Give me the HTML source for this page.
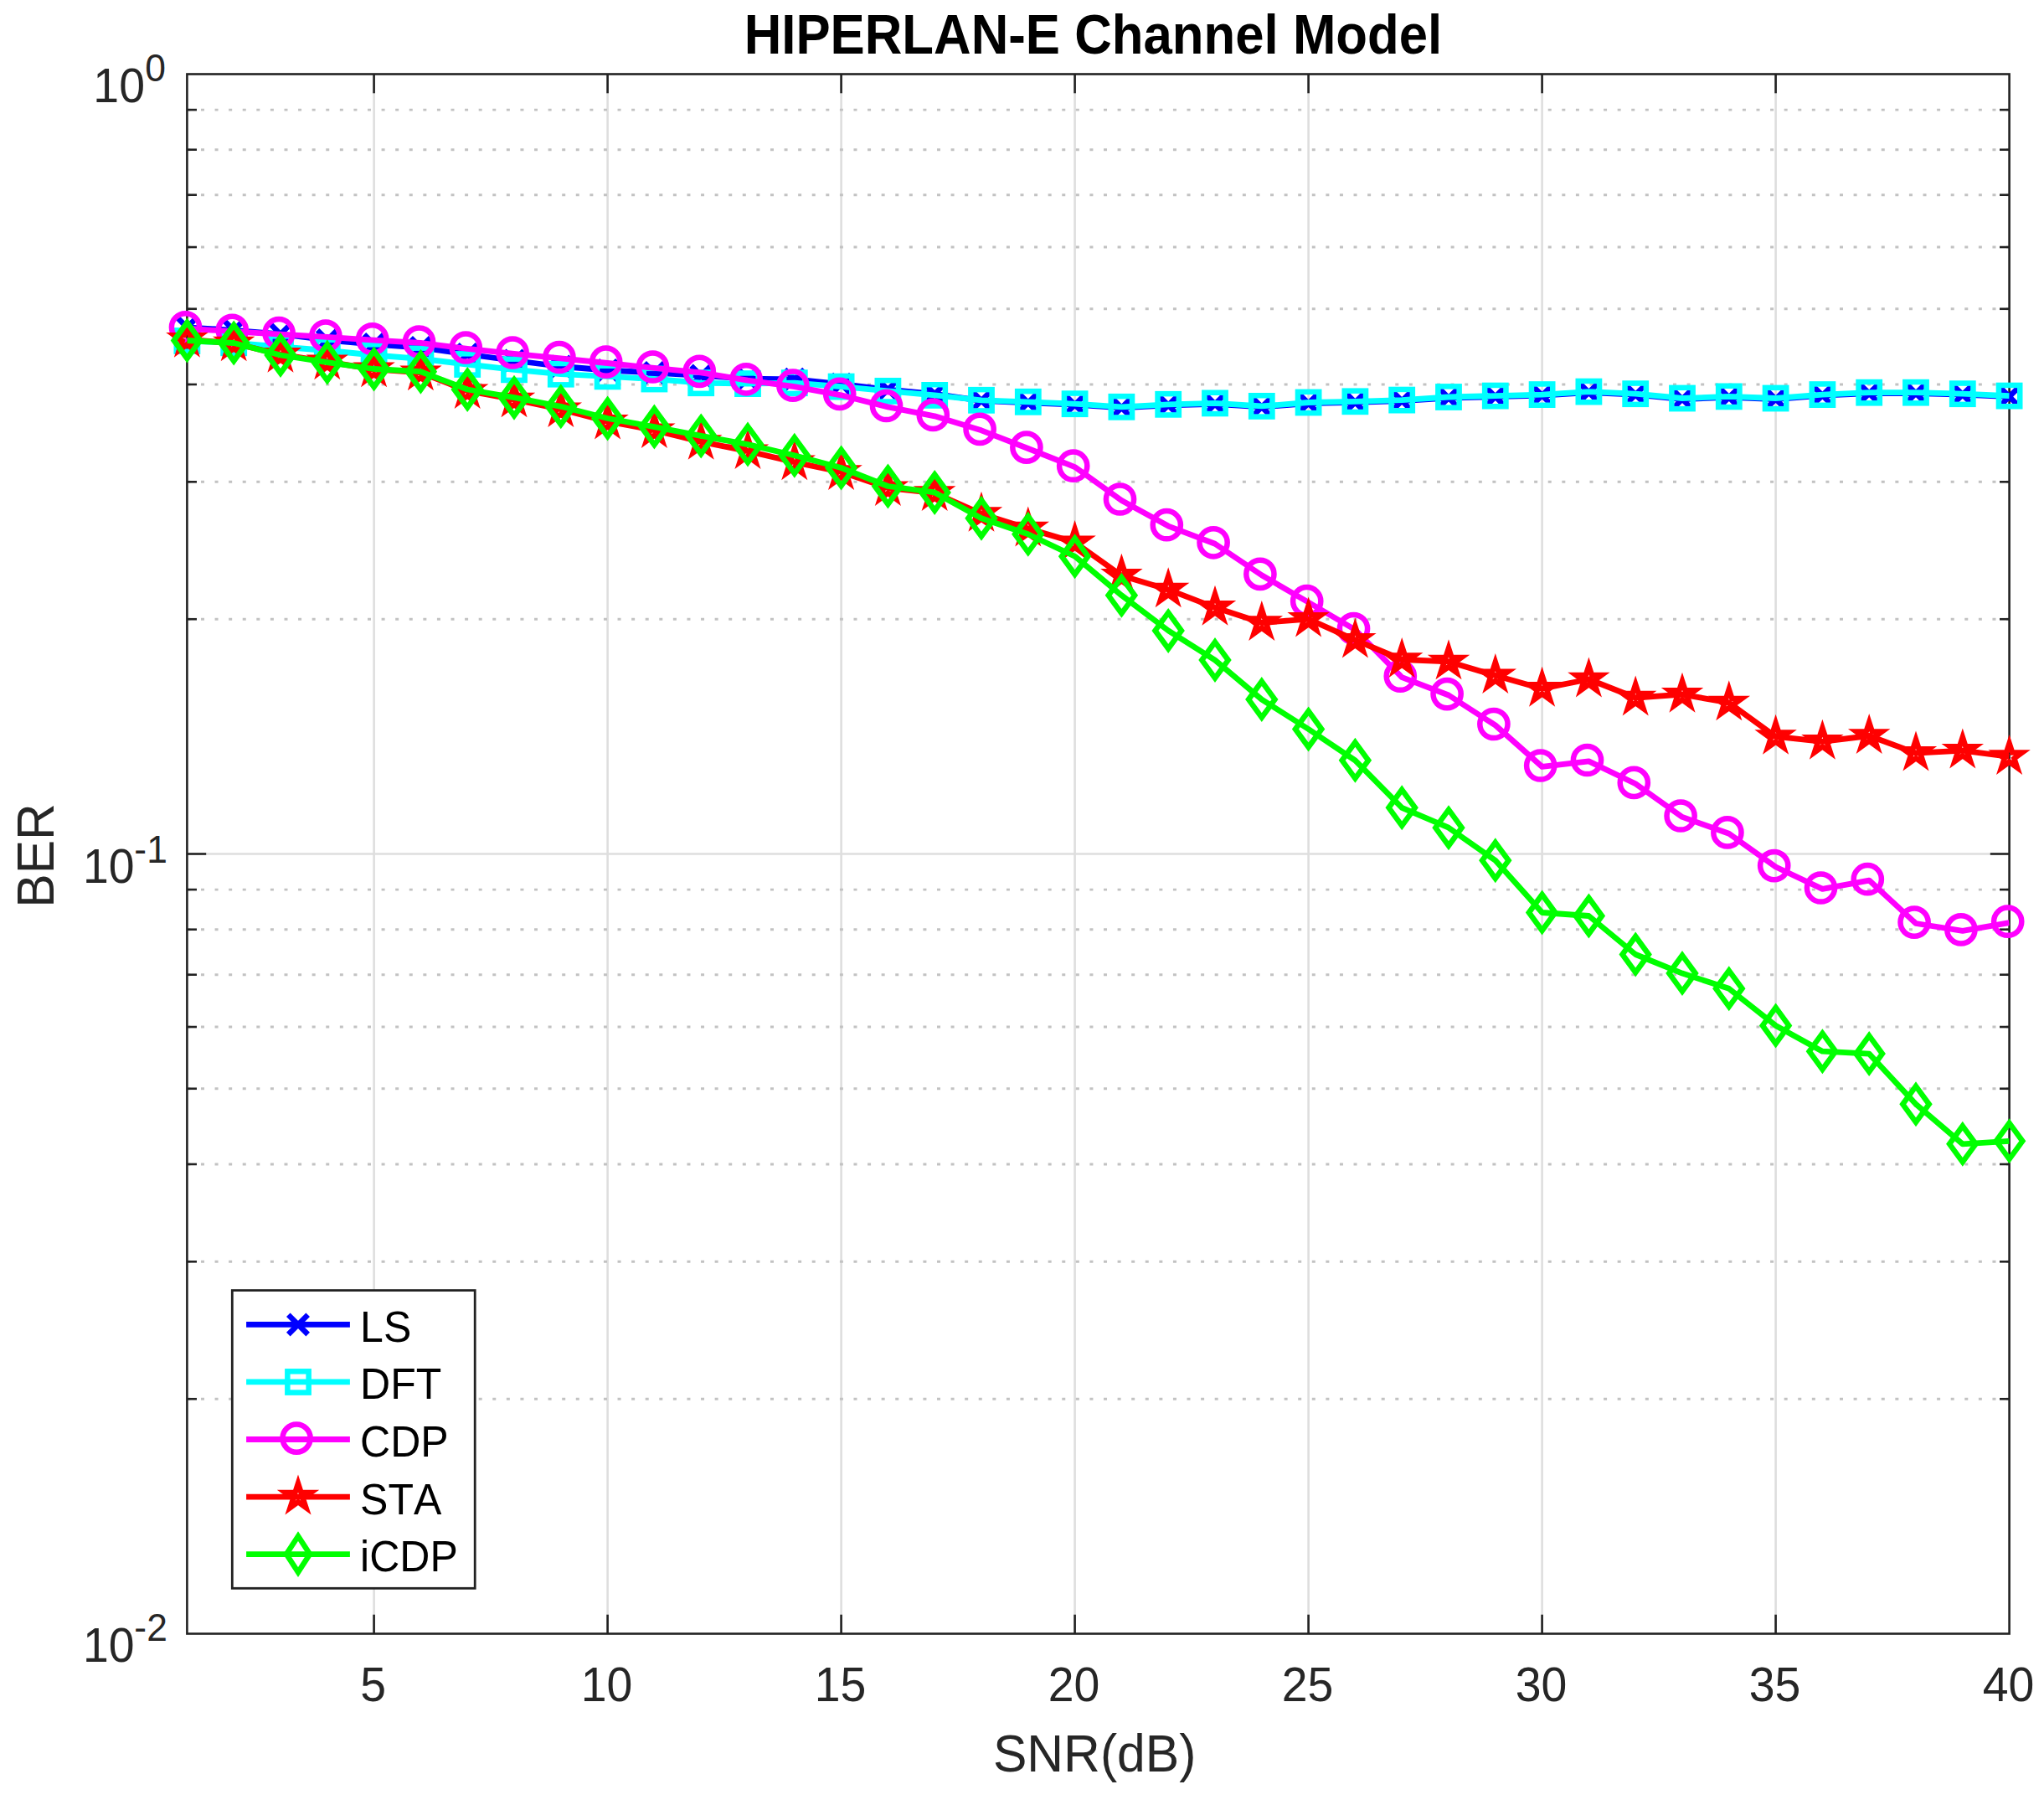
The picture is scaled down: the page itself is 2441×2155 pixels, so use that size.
<!DOCTYPE html>
<html lang="en"><head><meta charset="utf-8"><title>HIPERLAN-E Channel Model</title>
<style>html,body{margin:0;padding:0;background:#fff}body{width:2441px;height:2155px;overflow:hidden}svg{display:block}text{font-family:"Liberation Sans",sans-serif}text{font-kerning:none}.tk,.ex,.lb{fill:#262626}.tt{font-weight:bold;fill:#000}.lg{fill:#000}</style></head><body>
<svg width="2441" height="2155" viewBox="0 0 2441 2155">
<defs>
<clipPath id="ax"><rect x="223.40" y="88.50" width="2176.20" height="1862.00"/></clipPath>
<g id="mx"><path d="M-11.7 -11.7 L11.7 11.7 M-11.7 11.7 L11.7 -11.7" fill="none" stroke="#0000ff" stroke-width="6.50"/></g>
<rect id="ms" x="-12.65" y="-12.65" width="25.3" height="25.3" fill="none" stroke="#00ffff" stroke-width="6.50"/>
<circle id="mc" cx="-1.9" cy="-1.4" r="16.6" fill="none" stroke="#ff00ff" stroke-width="6.50"/>
<path id="mp" d="M0.00 -16.00 L3.59 -4.94 L15.22 -4.94 L5.81 1.89 L9.40 12.94 L0.00 6.11 L-9.40 12.94 L-5.81 1.89 L-15.22 -4.94 L-3.59 -4.94 Z" fill="none" stroke="#ff0000" stroke-width="6.50" stroke-linejoin="miter" stroke-miterlimit="10"/>
<path id="md" d="M0 -21.5 L15.7 0 L0 21.5 L-15.7 0 Z" fill="none" stroke="#00ff00" stroke-width="6.50" stroke-linejoin="miter" stroke-miterlimit="10"/>
<path id="mdl" d="M0 -21.5 L14 0 L0 21.5 L-14 0 Z" fill="none" stroke="#00ff00" stroke-width="6.50" stroke-linejoin="miter" stroke-miterlimit="10"/>
</defs>
<rect width="2441" height="2155" fill="#fff"/>
<g stroke="#dedede" stroke-width="2.6" fill="none">
<line x1="446.60" y1="88.50" x2="446.60" y2="1950.50"/>
<line x1="725.60" y1="88.50" x2="725.60" y2="1950.50"/>
<line x1="1004.60" y1="88.50" x2="1004.60" y2="1950.50"/>
<line x1="1283.60" y1="88.50" x2="1283.60" y2="1950.50"/>
<line x1="1562.60" y1="88.50" x2="1562.60" y2="1950.50"/>
<line x1="1841.60" y1="88.50" x2="1841.60" y2="1950.50"/>
<line x1="2120.60" y1="88.50" x2="2120.60" y2="1950.50"/>
<line x1="223.40" y1="1019.50" x2="2399.60" y2="1019.50"/>
</g>
<g stroke="#c2c2c2" stroke-width="2.9" stroke-dasharray="4 12.585" fill="none">
<line x1="223.40" y1="739.24" x2="2399.60" y2="739.24"/>
<line x1="223.40" y1="575.30" x2="2399.60" y2="575.30"/>
<line x1="223.40" y1="458.98" x2="2399.60" y2="458.98"/>
<line x1="223.40" y1="368.76" x2="2399.60" y2="368.76"/>
<line x1="223.40" y1="295.04" x2="2399.60" y2="295.04"/>
<line x1="223.40" y1="232.71" x2="2399.60" y2="232.71"/>
<line x1="223.40" y1="178.72" x2="2399.60" y2="178.72"/>
<line x1="223.40" y1="131.10" x2="2399.60" y2="131.10"/>
<line x1="223.40" y1="1670.24" x2="2399.60" y2="1670.24"/>
<line x1="223.40" y1="1506.30" x2="2399.60" y2="1506.30"/>
<line x1="223.40" y1="1389.98" x2="2399.60" y2="1389.98"/>
<line x1="223.40" y1="1299.76" x2="2399.60" y2="1299.76"/>
<line x1="223.40" y1="1226.04" x2="2399.60" y2="1226.04"/>
<line x1="223.40" y1="1163.71" x2="2399.60" y2="1163.71"/>
<line x1="223.40" y1="1109.72" x2="2399.60" y2="1109.72"/>
<line x1="223.40" y1="1062.10" x2="2399.60" y2="1062.10"/>
</g>
<g stroke="#222222" stroke-width="2.60" fill="none">
<rect x="223.40" y="88.50" width="2176.20" height="1862.00"/>
<line x1="446.60" y1="1950.50" x2="446.60" y2="1927.70"/>
<line x1="446.60" y1="88.50" x2="446.60" y2="111.30"/>
<line x1="725.60" y1="1950.50" x2="725.60" y2="1927.70"/>
<line x1="725.60" y1="88.50" x2="725.60" y2="111.30"/>
<line x1="1004.60" y1="1950.50" x2="1004.60" y2="1927.70"/>
<line x1="1004.60" y1="88.50" x2="1004.60" y2="111.30"/>
<line x1="1283.60" y1="1950.50" x2="1283.60" y2="1927.70"/>
<line x1="1283.60" y1="88.50" x2="1283.60" y2="111.30"/>
<line x1="1562.60" y1="1950.50" x2="1562.60" y2="1927.70"/>
<line x1="1562.60" y1="88.50" x2="1562.60" y2="111.30"/>
<line x1="1841.60" y1="1950.50" x2="1841.60" y2="1927.70"/>
<line x1="1841.60" y1="88.50" x2="1841.60" y2="111.30"/>
<line x1="2120.60" y1="1950.50" x2="2120.60" y2="1927.70"/>
<line x1="2120.60" y1="88.50" x2="2120.60" y2="111.30"/>
<line x1="223.40" y1="1019.50" x2="246.20" y2="1019.50"/>
<line x1="2399.60" y1="1019.50" x2="2376.80" y2="1019.50"/>
<line x1="223.40" y1="739.24" x2="235.00" y2="739.24"/>
<line x1="2399.60" y1="739.24" x2="2388.00" y2="739.24"/>
<line x1="223.40" y1="575.30" x2="235.00" y2="575.30"/>
<line x1="2399.60" y1="575.30" x2="2388.00" y2="575.30"/>
<line x1="223.40" y1="458.98" x2="235.00" y2="458.98"/>
<line x1="2399.60" y1="458.98" x2="2388.00" y2="458.98"/>
<line x1="223.40" y1="368.76" x2="235.00" y2="368.76"/>
<line x1="2399.60" y1="368.76" x2="2388.00" y2="368.76"/>
<line x1="223.40" y1="295.04" x2="235.00" y2="295.04"/>
<line x1="2399.60" y1="295.04" x2="2388.00" y2="295.04"/>
<line x1="223.40" y1="232.71" x2="235.00" y2="232.71"/>
<line x1="2399.60" y1="232.71" x2="2388.00" y2="232.71"/>
<line x1="223.40" y1="178.72" x2="235.00" y2="178.72"/>
<line x1="2399.60" y1="178.72" x2="2388.00" y2="178.72"/>
<line x1="223.40" y1="131.10" x2="235.00" y2="131.10"/>
<line x1="2399.60" y1="131.10" x2="2388.00" y2="131.10"/>
<line x1="223.40" y1="1670.24" x2="235.00" y2="1670.24"/>
<line x1="2399.60" y1="1670.24" x2="2388.00" y2="1670.24"/>
<line x1="223.40" y1="1506.30" x2="235.00" y2="1506.30"/>
<line x1="2399.60" y1="1506.30" x2="2388.00" y2="1506.30"/>
<line x1="223.40" y1="1389.98" x2="235.00" y2="1389.98"/>
<line x1="2399.60" y1="1389.98" x2="2388.00" y2="1389.98"/>
<line x1="223.40" y1="1299.76" x2="235.00" y2="1299.76"/>
<line x1="2399.60" y1="1299.76" x2="2388.00" y2="1299.76"/>
<line x1="223.40" y1="1226.04" x2="235.00" y2="1226.04"/>
<line x1="2399.60" y1="1226.04" x2="2388.00" y2="1226.04"/>
<line x1="223.40" y1="1163.71" x2="235.00" y2="1163.71"/>
<line x1="2399.60" y1="1163.71" x2="2388.00" y2="1163.71"/>
<line x1="223.40" y1="1109.72" x2="235.00" y2="1109.72"/>
<line x1="2399.60" y1="1109.72" x2="2388.00" y2="1109.72"/>
<line x1="223.40" y1="1062.10" x2="235.00" y2="1062.10"/>
<line x1="2399.60" y1="1062.10" x2="2388.00" y2="1062.10"/>
</g>
<polyline points="223.40,390.80 279.20,394.30 335.00,399.00 390.80,406.00 446.60,411.00 502.40,415.00 558.20,423.00 614.00,430.50 669.80,437.50 725.60,442.00 781.40,445.00 837.20,448.40 893.00,452.20 948.80,452.80 1004.60,458.70 1060.40,465.20 1116.20,470.40 1172.00,478.30 1227.80,480.80 1283.60,483.20 1339.40,486.80 1395.20,483.80 1451.00,482.40 1506.80,485.90 1562.60,481.50 1618.40,480.30 1674.20,478.60 1730.00,475.00 1785.80,473.60 1841.60,472.10 1897.40,468.60 1953.20,471.20 2009.00,476.50 2064.80,474.40 2120.60,476.50 2176.40,472.10 2232.20,469.70 2288.00,469.70 2343.80,471.20 2399.60,473.60" fill="none" stroke="#0000ff" stroke-width="6.80" stroke-linejoin="round" clip-path="url(#ax)"/>
<g><use href="#mx" x="223.40" y="390.80"/><use href="#mx" x="279.20" y="394.30"/><use href="#mx" x="335.00" y="399.00"/><use href="#mx" x="390.80" y="406.00"/><use href="#mx" x="446.60" y="411.00"/><use href="#mx" x="502.40" y="415.00"/><use href="#mx" x="558.20" y="423.00"/><use href="#mx" x="614.00" y="430.50"/><use href="#mx" x="669.80" y="437.50"/><use href="#mx" x="725.60" y="442.00"/><use href="#mx" x="781.40" y="445.00"/><use href="#mx" x="837.20" y="448.40"/><use href="#mx" x="893.00" y="452.20"/><use href="#mx" x="948.80" y="452.80"/><use href="#mx" x="1004.60" y="458.70"/><use href="#mx" x="1060.40" y="465.20"/><use href="#mx" x="1116.20" y="470.40"/><use href="#mx" x="1172.00" y="478.30"/><use href="#mx" x="1227.80" y="480.80"/><use href="#mx" x="1283.60" y="483.20"/><use href="#mx" x="1339.40" y="486.80"/><use href="#mx" x="1395.20" y="483.80"/><use href="#mx" x="1451.00" y="482.40"/><use href="#mx" x="1506.80" y="485.90"/><use href="#mx" x="1562.60" y="481.50"/><use href="#mx" x="1618.40" y="480.30"/><use href="#mx" x="1674.20" y="478.60"/><use href="#mx" x="1730.00" y="475.00"/><use href="#mx" x="1785.80" y="473.60"/><use href="#mx" x="1841.60" y="472.10"/><use href="#mx" x="1897.40" y="468.60"/><use href="#mx" x="1953.20" y="471.20"/><use href="#mx" x="2009.00" y="476.50"/><use href="#mx" x="2064.80" y="474.40"/><use href="#mx" x="2120.60" y="476.50"/><use href="#mx" x="2176.40" y="472.10"/><use href="#mx" x="2232.20" y="469.70"/><use href="#mx" x="2288.00" y="469.70"/><use href="#mx" x="2343.80" y="471.20"/><use href="#mx" x="2399.60" y="473.60"/></g>
<polyline points="223.40,407.00 279.20,409.30 335.00,414.00 390.80,418.50 446.60,424.00 502.40,428.30 558.20,435.00 614.00,441.30 669.80,446.70 725.60,449.40 781.40,452.50 837.20,457.20 893.00,458.10 948.80,457.20 1004.60,461.60 1060.40,466.90 1116.20,471.90 1172.00,477.80 1227.80,479.80 1283.60,482.20 1339.40,485.80 1395.20,482.80 1451.00,481.40 1506.80,484.90 1562.60,480.50 1618.40,479.30 1674.20,477.60 1730.00,474.00 1785.80,472.60 1841.60,471.10 1897.40,467.60 1953.20,470.20 2009.00,475.50 2064.80,473.40 2120.60,475.50 2176.40,471.10 2232.20,468.70 2288.00,468.70 2343.80,470.20 2399.60,472.60" fill="none" stroke="#00ffff" stroke-width="6.80" stroke-linejoin="round" clip-path="url(#ax)"/>
<g><use href="#ms" x="223.40" y="407.00"/><use href="#ms" x="279.20" y="409.30"/><use href="#ms" x="335.00" y="414.00"/><use href="#ms" x="390.80" y="418.50"/><use href="#ms" x="446.60" y="424.00"/><use href="#ms" x="502.40" y="428.30"/><use href="#ms" x="558.20" y="435.00"/><use href="#ms" x="614.00" y="441.30"/><use href="#ms" x="669.80" y="446.70"/><use href="#ms" x="725.60" y="449.40"/><use href="#ms" x="781.40" y="452.50"/><use href="#ms" x="837.20" y="457.20"/><use href="#ms" x="893.00" y="458.10"/><use href="#ms" x="948.80" y="457.20"/><use href="#ms" x="1004.60" y="461.60"/><use href="#ms" x="1060.40" y="466.90"/><use href="#ms" x="1116.20" y="471.90"/><use href="#ms" x="1172.00" y="477.80"/><use href="#ms" x="1227.80" y="479.80"/><use href="#ms" x="1283.60" y="482.20"/><use href="#ms" x="1339.40" y="485.80"/><use href="#ms" x="1395.20" y="482.80"/><use href="#ms" x="1451.00" y="481.40"/><use href="#ms" x="1506.80" y="484.90"/><use href="#ms" x="1562.60" y="480.50"/><use href="#ms" x="1618.40" y="479.30"/><use href="#ms" x="1674.20" y="477.60"/><use href="#ms" x="1730.00" y="474.00"/><use href="#ms" x="1785.80" y="472.60"/><use href="#ms" x="1841.60" y="471.10"/><use href="#ms" x="1897.40" y="467.60"/><use href="#ms" x="1953.20" y="470.20"/><use href="#ms" x="2009.00" y="475.50"/><use href="#ms" x="2064.80" y="473.40"/><use href="#ms" x="2120.60" y="475.50"/><use href="#ms" x="2176.40" y="471.10"/><use href="#ms" x="2232.20" y="468.70"/><use href="#ms" x="2288.00" y="468.70"/><use href="#ms" x="2343.80" y="470.20"/><use href="#ms" x="2399.60" y="472.60"/></g>
<polyline points="223.40,392.20 279.20,395.80 335.00,399.10 390.80,402.40 446.60,406.20 502.40,409.40 558.20,416.40 614.00,422.40 669.80,427.90 725.60,433.50 781.40,439.40 837.20,444.80 893.00,454.20 948.80,461.60 1004.60,471.80 1060.40,485.90 1116.20,496.80 1172.00,513.80 1227.80,535.50 1283.60,557.60 1339.40,597.40 1395.20,628.10 1451.00,649.20 1506.80,686.80 1562.60,719.10 1618.40,751.90 1674.20,808.60 1730.00,830.00 1785.80,865.90 1841.60,915.40 1897.40,908.90 1953.20,935.80 2009.00,975.40 2064.80,995.30 2120.60,1035.00 2176.40,1061.40 2232.20,1051.10 2288.00,1102.50 2343.80,1111.30 2399.60,1101.60" fill="none" stroke="#ff00ff" stroke-width="6.80" stroke-linejoin="round" clip-path="url(#ax)"/>
<g><use href="#mc" x="223.40" y="392.20"/><use href="#mc" x="279.20" y="395.80"/><use href="#mc" x="335.00" y="399.10"/><use href="#mc" x="390.80" y="402.40"/><use href="#mc" x="446.60" y="406.20"/><use href="#mc" x="502.40" y="409.40"/><use href="#mc" x="558.20" y="416.40"/><use href="#mc" x="614.00" y="422.40"/><use href="#mc" x="669.80" y="427.90"/><use href="#mc" x="725.60" y="433.50"/><use href="#mc" x="781.40" y="439.40"/><use href="#mc" x="837.20" y="444.80"/><use href="#mc" x="893.00" y="454.20"/><use href="#mc" x="948.80" y="461.60"/><use href="#mc" x="1004.60" y="471.80"/><use href="#mc" x="1060.40" y="485.90"/><use href="#mc" x="1116.20" y="496.80"/><use href="#mc" x="1172.00" y="513.80"/><use href="#mc" x="1227.80" y="535.50"/><use href="#mc" x="1283.60" y="557.60"/><use href="#mc" x="1339.40" y="597.40"/><use href="#mc" x="1395.20" y="628.10"/><use href="#mc" x="1451.00" y="649.20"/><use href="#mc" x="1506.80" y="686.80"/><use href="#mc" x="1562.60" y="719.10"/><use href="#mc" x="1618.40" y="751.90"/><use href="#mc" x="1674.20" y="808.60"/><use href="#mc" x="1730.00" y="830.00"/><use href="#mc" x="1785.80" y="865.90"/><use href="#mc" x="1841.60" y="915.40"/><use href="#mc" x="1897.40" y="908.90"/><use href="#mc" x="1953.20" y="935.80"/><use href="#mc" x="2009.00" y="975.40"/><use href="#mc" x="2064.80" y="995.30"/><use href="#mc" x="2120.60" y="1035.00"/><use href="#mc" x="2176.40" y="1061.40"/><use href="#mc" x="2232.20" y="1051.10"/><use href="#mc" x="2288.00" y="1102.50"/><use href="#mc" x="2343.80" y="1111.30"/><use href="#mc" x="2399.60" y="1101.60"/></g>
<polyline points="223.40,405.20 279.20,409.90 335.00,423.20 390.80,431.80 446.60,440.80 502.40,444.80 558.20,466.60 614.00,476.90 669.80,488.60 725.60,503.10 781.40,513.60 837.20,527.40 893.00,538.60 948.80,551.80 1004.60,563.50 1060.40,582.60 1116.20,588.50 1172.00,613.40 1227.80,631.00 1283.60,647.60 1339.40,687.30 1395.20,703.90 1451.00,725.30 1506.80,743.50 1562.60,739.10 1618.40,764.10 1674.20,787.50 1730.00,789.90 1785.80,806.60 1841.60,822.20 1897.40,811.00 1953.20,833.00 2009.00,829.20 2064.80,838.90 2120.60,879.40 2176.40,885.30 2232.20,878.50 2288.00,899.10 2343.80,896.10 2399.60,903.50" fill="none" stroke="#ff0000" stroke-width="6.80" stroke-linejoin="round" clip-path="url(#ax)"/>
<g><use href="#mp" x="223.40" y="405.20"/><use href="#mp" x="279.20" y="409.90"/><use href="#mp" x="335.00" y="423.20"/><use href="#mp" x="390.80" y="431.80"/><use href="#mp" x="446.60" y="440.80"/><use href="#mp" x="502.40" y="444.80"/><use href="#mp" x="558.20" y="466.60"/><use href="#mp" x="614.00" y="476.90"/><use href="#mp" x="669.80" y="488.60"/><use href="#mp" x="725.60" y="503.10"/><use href="#mp" x="781.40" y="513.60"/><use href="#mp" x="837.20" y="527.40"/><use href="#mp" x="893.00" y="538.60"/><use href="#mp" x="948.80" y="551.80"/><use href="#mp" x="1004.60" y="563.50"/><use href="#mp" x="1060.40" y="582.60"/><use href="#mp" x="1116.20" y="588.50"/><use href="#mp" x="1172.00" y="613.40"/><use href="#mp" x="1227.80" y="631.00"/><use href="#mp" x="1283.60" y="647.60"/><use href="#mp" x="1339.40" y="687.30"/><use href="#mp" x="1395.20" y="703.90"/><use href="#mp" x="1451.00" y="725.30"/><use href="#mp" x="1506.80" y="743.50"/><use href="#mp" x="1562.60" y="739.10"/><use href="#mp" x="1618.40" y="764.10"/><use href="#mp" x="1674.20" y="787.50"/><use href="#mp" x="1730.00" y="789.90"/><use href="#mp" x="1785.80" y="806.60"/><use href="#mp" x="1841.60" y="822.20"/><use href="#mp" x="1897.40" y="811.00"/><use href="#mp" x="1953.20" y="833.00"/><use href="#mp" x="2009.00" y="829.20"/><use href="#mp" x="2064.80" y="838.90"/><use href="#mp" x="2120.60" y="879.40"/><use href="#mp" x="2176.40" y="885.30"/><use href="#mp" x="2232.20" y="878.50"/><use href="#mp" x="2288.00" y="899.10"/><use href="#mp" x="2343.80" y="896.10"/><use href="#mp" x="2399.60" y="903.50"/></g>
<polyline points="223.40,406.50 279.20,409.50 335.00,424.00 390.80,432.70 446.60,440.50 502.40,443.70 558.20,465.00 614.00,474.70 669.80,485.30 725.60,499.50 781.40,509.60 837.20,520.40 893.00,530.60 948.80,543.80 1004.60,558.50 1060.40,580.50 1116.20,587.90 1172.00,618.70 1227.80,637.80 1283.60,664.20 1339.40,710.80 1395.20,752.90 1451.00,788.10 1506.80,835.10 1562.60,870.50 1618.40,907.80 1674.20,964.30 1730.00,988.20 1785.80,1027.30 1841.60,1089.50 1897.40,1093.50 1953.20,1139.50 2009.00,1162.10 2064.80,1180.30 2120.60,1224.40 2176.40,1255.20 2232.20,1258.10 2288.00,1318.30 2343.80,1365.80 2399.60,1362.30" fill="none" stroke="#00ff00" stroke-width="6.80" stroke-linejoin="round" clip-path="url(#ax)"/>
<g><use href="#md" x="223.40" y="406.50"/><use href="#md" x="279.20" y="409.50"/><use href="#md" x="335.00" y="424.00"/><use href="#md" x="390.80" y="432.70"/><use href="#md" x="446.60" y="440.50"/><use href="#md" x="502.40" y="443.70"/><use href="#md" x="558.20" y="465.00"/><use href="#md" x="614.00" y="474.70"/><use href="#md" x="669.80" y="485.30"/><use href="#md" x="725.60" y="499.50"/><use href="#md" x="781.40" y="509.60"/><use href="#md" x="837.20" y="520.40"/><use href="#md" x="893.00" y="530.60"/><use href="#md" x="948.80" y="543.80"/><use href="#md" x="1004.60" y="558.50"/><use href="#md" x="1060.40" y="580.50"/><use href="#md" x="1116.20" y="587.90"/><use href="#md" x="1172.00" y="618.70"/><use href="#md" x="1227.80" y="637.80"/><use href="#md" x="1283.60" y="664.20"/><use href="#md" x="1339.40" y="710.80"/><use href="#md" x="1395.20" y="752.90"/><use href="#md" x="1451.00" y="788.10"/><use href="#md" x="1506.80" y="835.10"/><use href="#md" x="1562.60" y="870.50"/><use href="#md" x="1618.40" y="907.80"/><use href="#md" x="1674.20" y="964.30"/><use href="#md" x="1730.00" y="988.20"/><use href="#md" x="1785.80" y="1027.30"/><use href="#md" x="1841.60" y="1089.50"/><use href="#md" x="1897.40" y="1093.50"/><use href="#md" x="1953.20" y="1139.50"/><use href="#md" x="2009.00" y="1162.10"/><use href="#md" x="2064.80" y="1180.30"/><use href="#md" x="2120.60" y="1224.40"/><use href="#md" x="2176.40" y="1255.20"/><use href="#md" x="2232.20" y="1258.10"/><use href="#md" x="2288.00" y="1318.30"/><use href="#md" x="2343.80" y="1365.80"/><use href="#md" x="2399.60" y="1362.30"/></g>
<text class="tk" x="430.19" y="2030.80" font-size="57.64" textLength="30.81" lengthAdjust="spacingAndGlyphs">5</text>
<text class="tk" x="693.79" y="2030.80" font-size="57.64" textLength="61.62" lengthAdjust="spacingAndGlyphs">10</text>
<text class="tk" x="972.79" y="2030.80" font-size="57.64" textLength="61.62" lengthAdjust="spacingAndGlyphs">15</text>
<text class="tk" x="1251.79" y="2030.80" font-size="57.64" textLength="61.62" lengthAdjust="spacingAndGlyphs">20</text>
<text class="tk" x="1530.79" y="2030.80" font-size="57.64" textLength="61.62" lengthAdjust="spacingAndGlyphs">25</text>
<text class="tk" x="1809.79" y="2030.80" font-size="57.64" textLength="61.62" lengthAdjust="spacingAndGlyphs">30</text>
<text class="tk" x="2088.79" y="2030.80" font-size="57.64" textLength="61.62" lengthAdjust="spacingAndGlyphs">35</text>
<text class="tk" x="2367.79" y="2030.80" font-size="57.64" textLength="61.62" lengthAdjust="spacingAndGlyphs">40</text>
<text class="tk" x="111.36" y="121.70" font-size="57.64" textLength="61.62" lengthAdjust="spacingAndGlyphs">10</text>
<text class="ex" x="173.15" y="97.20" font-size="46.20" textLength="24.69" lengthAdjust="spacingAndGlyphs">0</text>
<text class="tk" x="99.01" y="1054.40" font-size="57.64" textLength="61.62" lengthAdjust="spacingAndGlyphs">10</text>
<text class="ex" x="160.35" y="1029.90" font-size="46.20" textLength="39.48" lengthAdjust="spacingAndGlyphs">-1</text>
<text class="tk" x="99.01" y="1983.70" font-size="57.64" textLength="61.62" lengthAdjust="spacingAndGlyphs">10</text>
<text class="ex" x="160.35" y="1959.20" font-size="46.20" textLength="39.48" lengthAdjust="spacingAndGlyphs">-2</text>
<text class="lb" x="1185.94" y="2114.70" font-size="63.05" textLength="242.43" lengthAdjust="spacingAndGlyphs">SNR(dB)</text>
<g transform="translate(64.1 1020.35) rotate(-90)"><text class="lb" x="-63.38" y="0.00" font-size="63.05" textLength="124.60" lengthAdjust="spacingAndGlyphs">BER</text></g>
<text class="tt" x="888.67" y="64.10" font-size="65.83" textLength="833.60" lengthAdjust="spacingAndGlyphs">HIPERLAN-E Channel Model</text>
<rect x="277.30" y="1540.60" width="289.90" height="355.70" fill="#fff" stroke="#222222" stroke-width="2.8"/>
<line x1="294.1" y1="1581.40" x2="417.9" y2="1581.40" stroke="#0000ff" stroke-width="6.80"/>
<use href="#mx" x="356" y="1581.40"/>
<text class="lg" x="430.10" y="1601.90" font-size="52.02" textLength="61.16" lengthAdjust="spacingAndGlyphs">LS</text>
<line x1="294.1" y1="1649.95" x2="417.9" y2="1649.95" stroke="#00ffff" stroke-width="6.80"/>
<use href="#ms" x="356" y="1649.95"/>
<text class="lg" x="430.10" y="1670.45" font-size="52.02" textLength="97.19" lengthAdjust="spacingAndGlyphs">DFT</text>
<line x1="294.1" y1="1718.50" x2="417.9" y2="1718.50" stroke="#ff00ff" stroke-width="6.80"/>
<use href="#mc" x="356" y="1718.50"/>
<text class="lg" x="430.10" y="1739.00" font-size="52.02" textLength="105.57" lengthAdjust="spacingAndGlyphs">CDP</text>
<line x1="294.1" y1="1787.05" x2="417.9" y2="1787.05" stroke="#ff0000" stroke-width="6.80"/>
<use href="#mp" x="356" y="1787.05"/>
<text class="lg" x="430.10" y="1807.55" font-size="52.02" textLength="97.24" lengthAdjust="spacingAndGlyphs">STA</text>
<line x1="294.1" y1="1855.60" x2="417.9" y2="1855.60" stroke="#00ff00" stroke-width="6.80"/>
<use href="#mdl" x="356" y="1855.60"/>
<text class="lg" x="430.10" y="1876.10" font-size="52.02" textLength="116.67" lengthAdjust="spacingAndGlyphs">iCDP</text>
</svg></body></html>
